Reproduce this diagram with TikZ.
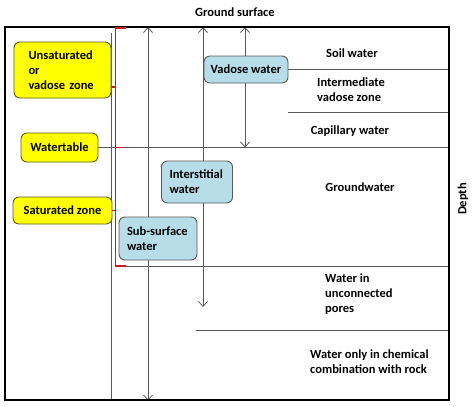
\documentclass[tikz,border=0pt]{standalone}
\usepackage{fontspec}
\setmainfont{Carlito}
\usepackage{tikz}
\usetikzlibrary{arrows.meta,backgrounds}
\definecolor{zoneyellow}{RGB}{255,255,0}
\definecolor{zoneedge}{RGB}{95,90,20}
\definecolor{waterblue}{RGB}{183,221,232}
\definecolor{bracketred}{RGB}{205,25,35}

\begin{document}
\begin{tikzpicture}[x=1pt,y=-1pt,
    every node/.style={font=\fontsize{12.5}{15}\selectfont\bfseries, inner sep=0pt},
    zone/.style={draw=zoneedge, fill=zoneyellow, rounded corners=6pt, line width=0.9pt},
    waterbox/.style={draw=black!65, fill=waterblue, rounded corners=6pt, line width=0.9pt},
    layer/.style={draw=black!65, line width=0.8pt},
    depthline/.style={layer, {Straight Barb[length=5pt,width=9pt]}-{Straight Barb[length=5pt,width=9pt]}},
    bracket/.style={draw=bracketred, line width=1.3pt}]
    \useasboundingbox (0,0) rectangle (474,407);
    % Frame
    \node[draw, line width=1.2pt, minimum width=444, minimum height=373] (frame) at (227,213.5) {};
    % Zones
    \node[zone, minimum width=97, minimum height=56, text width=68, inner xsep=14.5, align=left] (unsat) at (62.5,70) {Unsaturated\\or\\vadose zone};
    \node[zone, minimum width=77, minimum height=29] (wtab) at (59.5,147.5) {Watertable};
    \node[zone, minimum width=99, minimum height=27] (satz) at (62.5,210.5) {Saturated zone};
    % Water types
    \node[waterbox, minimum width=84, minimum height=27] (vadose) at (246,69.5) {Vadose water};
    \node[waterbox, minimum width=71, minimum height=42, text width=55, inner xsep=8, align=left] (inter) at (197,182) {Interstitial\\water};
    \node[waterbox, minimum width=78, minimum height=43, text width=62, inner xsep=8, align=left] (subs) at (158,238.5) {Sub-surface\\water};
    % Labels
    \node (ground) at (235,12) {Ground surface};
    \node (soil) at (352,53) {Soil water};
    \node[anchor=west, align=left] (midvz) at (317,89.5) {Intermediate\\vadose zone};
    \node (capil) at (350,131) {Capillary water};
    \node (gwater) at (360,187) {Groundwater};
    \node[rotate=90] (depth) at (463,199) {Depth};
    \node[anchor=west, align=left] (pores) at (325,294) {Water in\\unconnected\\pores};
    \node[anchor=west, align=left] (chem) at (310,362) {Water only in chemical\\combination with rock};
    % Ends
    \coordinate (gsA) at (148,27);
    \coordinate (gsB) at (203,27);
    \coordinate (gsC) at (245,27);
    \coordinate (endB) at (203,307);
    \coordinate (brt) at (115.5,28);
    \coordinate (brb) at (115.5,266);
    \coordinate (ivz) at (288,112);
    \coordinate (unc) at (196,330);
    \coordinate (unsatout) at ([yshift=-17pt]unsat.east);
    \begin{pgfonlayer}{background}
        % Boundaries
        \draw[layer] (111.5,33) -- (111.5,400);
        \draw[layer] (wtab.east) -- (wtab.east -| frame.east);
        \draw[layer] (vadose.east) -- (vadose.east -| frame.east);
        \draw[layer] (ivz) -- (ivz -| frame.east);
        \draw[layer] (brb) -- (brb -| frame.east);
        \draw[layer] (unc) -- (unc -| frame.east);
        % Depth ranges
        \draw[depthline] (gsA) -- (gsA |- frame.south);
        \draw[depthline] (gsB) -- (endB);
        \draw[depthline] (gsC) -- (gsC |- wtab.east);
    \end{pgfonlayer}
    % Bracket
    \draw[bracket] ([xshift=10pt]brt) -- (brt) -- (brb) -- ([xshift=10pt]brb);
    \draw[bracket] (brt |- wtab.east) -- ++(10,0);
    \draw[bracket] (unsatout) -- (unsatout -| brt);
    \draw[bracket] (satz.east) -- (satz.east -| brt);
\end{tikzpicture}
\end{document}
